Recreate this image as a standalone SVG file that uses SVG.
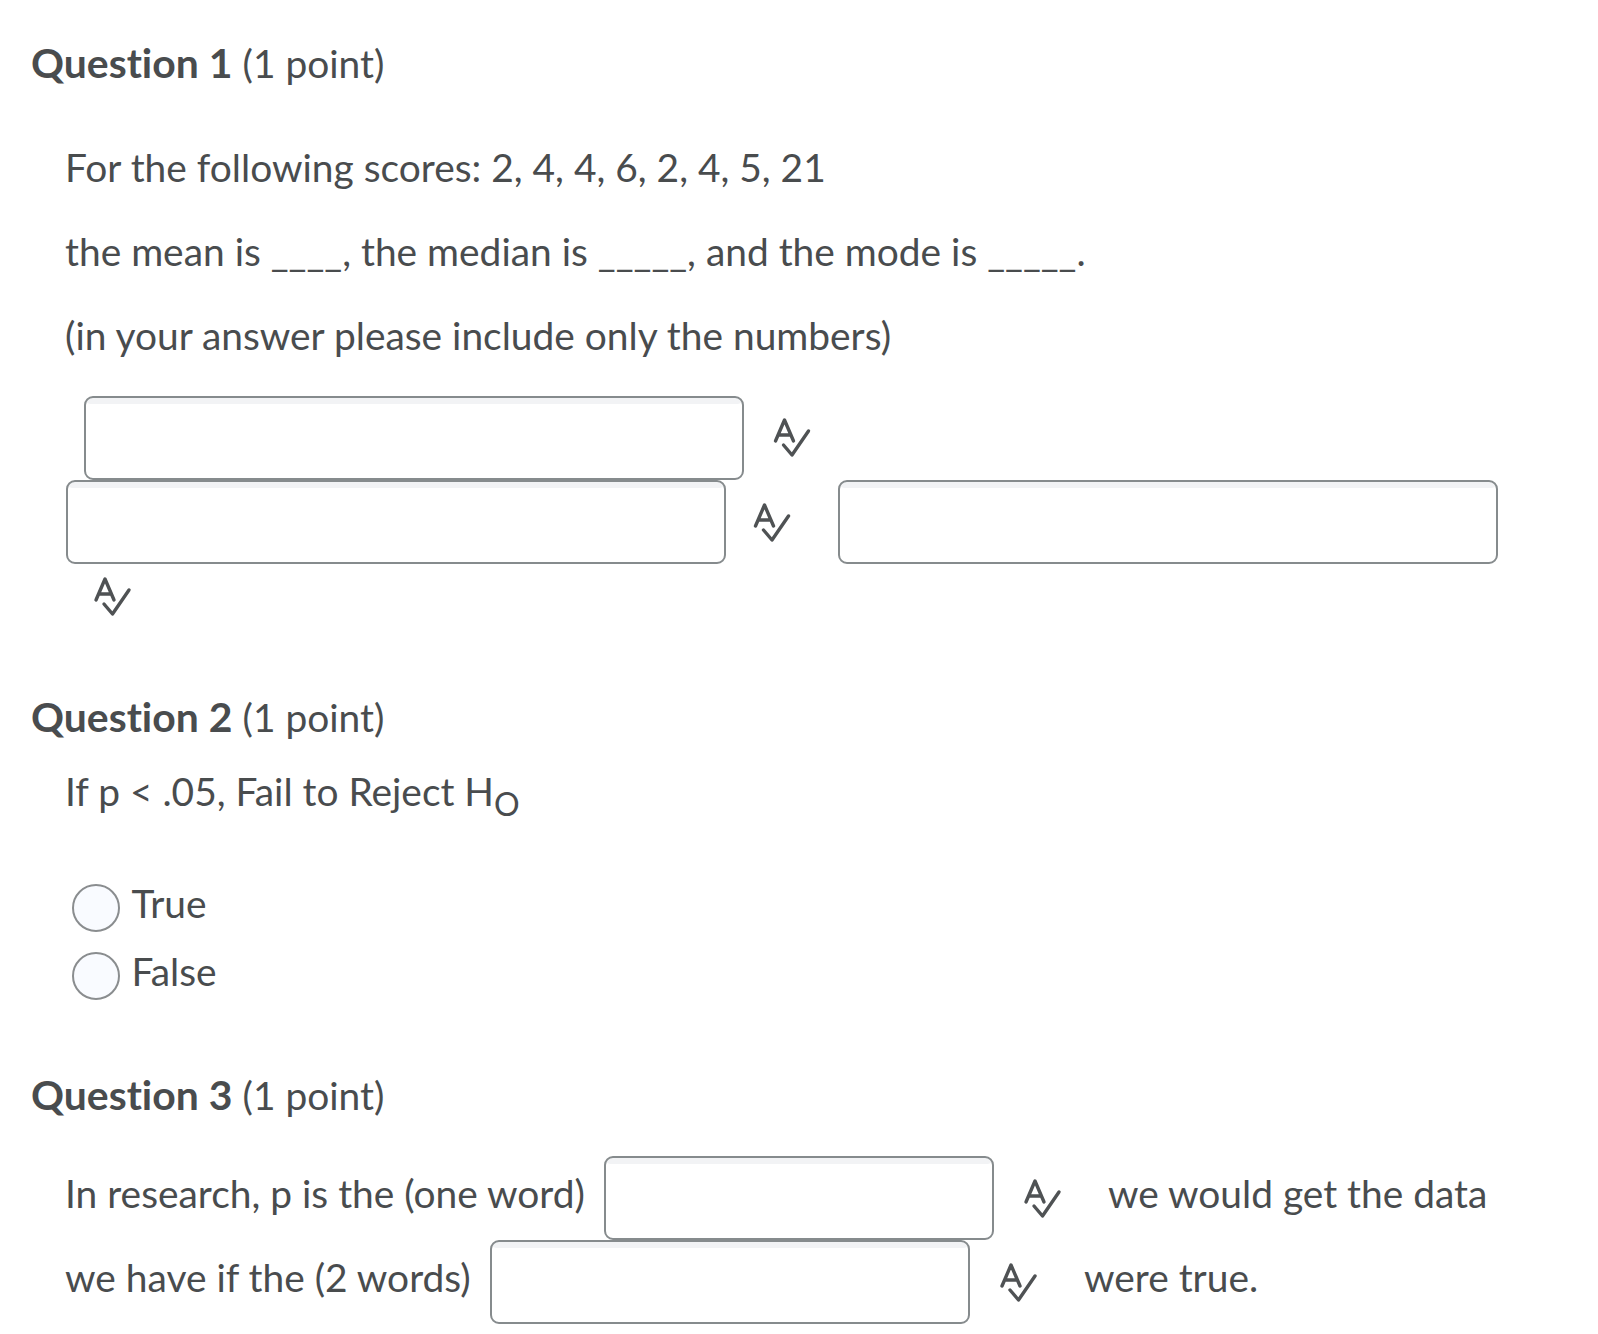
<svg xmlns="http://www.w3.org/2000/svg" width="1598" height="1334" viewBox="0 0 1598 1334">
<style>
text{font-family:Lato,"Liberation Sans",sans-serif;font-size:38.9px;fill:#494c4e;font-variant-ligatures:none}
.b{font-weight:700;font-size:40.9px}
.sub{font-size:32px}
.box{fill:none;stroke:#868b8d;stroke-width:2}
.band{fill:#f2f3f5}
.radio{fill:#f9fbff;stroke:#8a8d8f;stroke-width:2}
.ic{fill:none;stroke:#4f5254;stroke-width:3.4;stroke-linecap:round;stroke-linejoin:round}
</style>
<defs><g id="spell"><path class="ic" d="M-17 3L-8 -18L1 3M-14 -3L-2 -3"/><path class="ic" d="M-9 7L-0.500 17L16 -7"/></g></defs>
<rect width="1598" height="1334" fill="#fff"/>
<g id="q1"><text x="31" y="78" class="b">Question 1</text><text x="242.500" y="78">(1 point)</text>
<text x="65" y="182">For the following scores: 2, 4, 4, 6, 2, 4, 5, 21</text>
<text x="65" y="266">the mean is ____, the median is _____, and the mode is _____.</text>
<text x="65" y="350">(in your answer please include only the numbers)</text>
<g id="box1"><rect class="band" x="86" y="398" width="656" height="6" rx="5"/><rect class="box" x="85" y="397" width="658" height="82" rx="8"/></g>
<g id="box2"><rect class="band" x="68" y="482" width="656" height="6" rx="5"/><rect class="box" x="67" y="481" width="658" height="82" rx="8"/></g>
<g id="box3"><rect class="band" x="840" y="482" width="656" height="6" rx="5"/><rect class="box" x="839" y="481" width="658" height="82" rx="8"/></g>
<use href="#spell" x="792.500" y="438"/><use href="#spell" x="772.500" y="523"/><use href="#spell" x="113" y="597"/></g>
<g id="q2"><text x="31" y="732" class="b">Question 2</text><text x="242.500" y="732">(1 point)</text>
<text x="65" y="806">If p &lt; .05, Fail to Reject H<tspan class="sub" dy="10">O</tspan></text>
<circle class="radio" cx="96" cy="908" r="23"/><text x="131.500" y="918">True</text>
<circle class="radio" cx="96" cy="976" r="23"/><text x="131.500" y="986">False</text></g>
<g id="q3"><text x="31" y="1110" class="b">Question 3</text><text x="242.500" y="1110">(1 point)</text>
<text x="65" y="1208">In research, p is the (one word)</text>
<g id="box4"><rect class="band" x="606" y="1158" width="386" height="6" rx="5"/><rect class="box" x="605" y="1157" width="388" height="82" rx="8"/></g>
<use href="#spell" x="1043" y="1199"/><text x="1108" y="1208">we would get the data</text>
<text x="65" y="1292">we have if the (2 words)</text>
<g id="box5"><rect class="band" x="492" y="1242" width="476" height="6" rx="5"/><rect class="box" x="491" y="1241" width="478" height="82" rx="8"/></g>
<use href="#spell" x="1019" y="1283"/><text x="1084" y="1292">were true.</text></g>
</svg>
